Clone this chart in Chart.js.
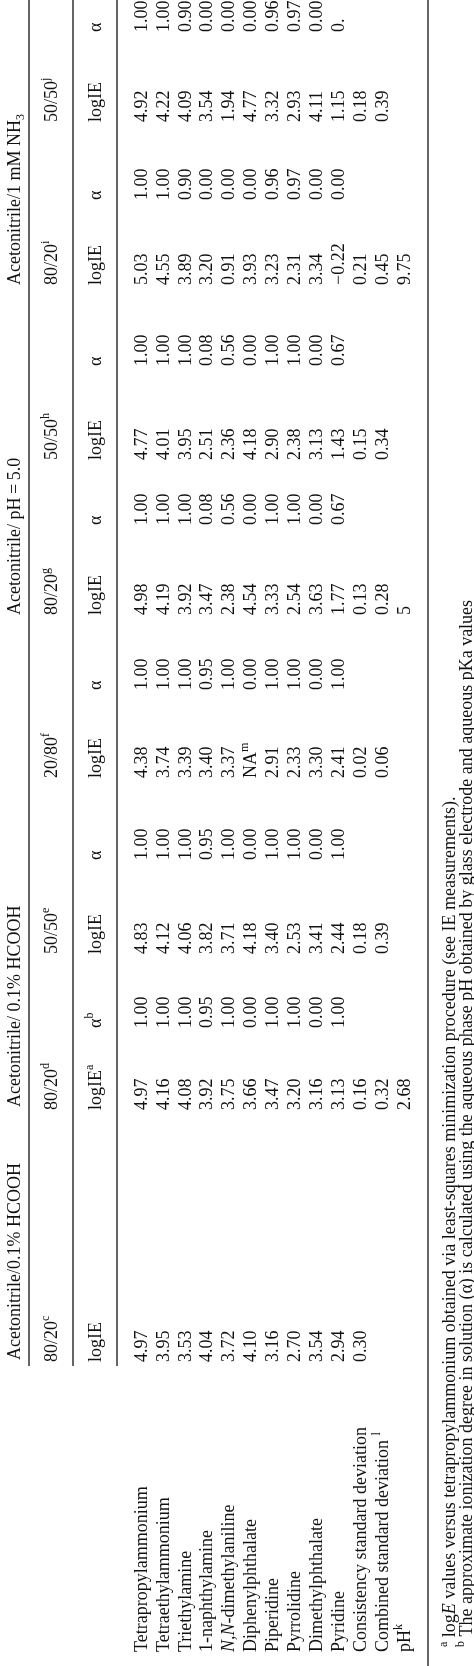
<!DOCTYPE html>
<html>
<head>
<meta charset="utf-8">
<script src="https://cdn.jsdelivr.net/npm/chart.js@4/dist/chart.umd.min.js"></script>
<style>
  html, body { margin: 0; padding: 0; background: #fff; }
  canvas { display: block; }
</style>
</head>
<body>
<canvas id="tbl" width="474" height="1666"></canvas>
<script>
// rows of the table (read bottom-to-top in the rotated page)
const compounds = ['Tetrapropylammonium', 'Tetraethylammonium', 'Triethylamine', '1-naphthylamine',
  '*N,N*-dimethylaniline', 'Diphenylphthalate', 'Piperidine', 'Pyrrolidine', 'Dimethylphthalate',
  'Pyridine', 'Consistency standard deviation', 'Combined standard deviation ^l', 'pH^k'];

const groups = ['Acetonitrile/0.1% HCOOH', 'Acetonitrile/ 0.1% HCOOH', 'Acetonitrile/ pH\u2009=\u20095.0', 'Acetonitrile/1 mM NH_3'];
const conditions = ['80/20^c', '80/20^d', '50/50^e', '20/80^f', '80/20^g', '50/50^h', '80/20^i', '50/50^j'];
const colHeads = ['logIE', 'logIE^a', '\u03b1^b', 'logIE', '\u03b1', 'logIE', '\u03b1', 'logIE', '\u03b1',
  'logIE', '\u03b1', 'logIE', '\u03b1', 'logIE', '\u03b1'];

const logIE_c = ['4.97', '3.95', '3.53', '4.04', '3.72', '4.10', '3.16', '2.70', '3.54', '2.94', '0.30'];
const logIE_d = ['4.97', '4.16', '4.08', '3.92', '3.75', '3.66', '3.47', '3.20', '3.16', '3.13', '0.16', '0.32', '2.68'];
const alpha_d = ['1.00', '1.00', '1.00', '0.95', '1.00', '0.00', '1.00', '1.00', '0.00', '1.00'];
const logIE_e = ['4.83', '4.12', '4.06', '3.82', '3.71', '4.18', '3.40', '2.53', '3.41', '2.44', '0.18', '0.39'];
const alpha_e = ['1.00', '1.00', '1.00', '0.95', '1.00', '0.00', '1.00', '1.00', '0.00', '1.00'];
const logIE_f = ['4.38', '3.74', '3.39', '3.40', '3.37', 'NA^m', '2.91', '2.33', '3.30', '2.41', '0.02', '0.06'];
const alpha_f = ['1.00', '1.00', '1.00', '0.95', '1.00', '0.00', '1.00', '1.00', '0.00', '1.00'];
const logIE_g = ['4.98', '4.19', '3.92', '3.47', '2.38', '4.54', '3.33', '2.54', '3.63', '1.77', '0.13', '0.28', '5'];
const alpha_g = ['1.00', '1.00', '1.00', '0.08', '0.56', '0.00', '1.00', '1.00', '0.00', '0.67'];
const logIE_h = ['4.77', '4.01', '3.95', '2.51', '2.36', '4.18', '2.90', '2.38', '3.13', '1.43', '0.15', '0.34'];
const alpha_h = ['1.00', '1.00', '1.00', '0.08', '0.56', '0.00', '1.00', '1.00', '0.00', '0.67'];
const logIE_i = ['5.03', '4.55', '3.89', '3.20', '0.91', '3.93', '3.23', '2.31', '3.34', '\u22120.22', '0.21', '0.45', '9.75'];
const alpha_i = ['1.00', '1.00', '0.90', '0.00', '0.00', '0.00', '0.96', '0.97', '0.00', '0.00'];
const logIE_j = ['4.92', '4.22', '4.09', '3.54', '1.94', '4.77', '3.32', '2.93', '4.11', '1.15', '0.18', '0.39'];
const alpha_j = ['1.00', '1.00', '0.90', '0.00', '0.00', '0.00', '0.96', '0.97', '0.00', '0.'];

const footnotes = [
  '^a log*E* values versus tetrapropylammonium obtained via least-squares minimization procedure (see IE measurements).',
  '^b The approximate ionization degree in solution (\u03b1) is calculated using the aqueous phase pH obtained by glass electrode and aqueous pKa values'
];

// layout (page y where each column's text starts; text runs upward)
const columns = [logIE_c, logIE_d, alpha_d, logIE_e, alpha_e, logIE_f, alpha_f,
  logIE_g, alpha_g, logIE_h, alpha_h, logIE_i, alpha_i, logIE_j, alpha_j];
const colStart = [1362, 1110, 1028, 954, 860, 778, 690, 615, 525, 460, 366, 285, 200, 122, 32];
const condStart = [1362, 1110, 954, 778, 615, 460, 285, 122];
const groupStart = [1360, 1107, 615, 285];
const nameStart = 1652;
const FONT = 'Liberation Serif, Times New Roman, serif';
const SIZE = 18;

// cells -> points on (row index, page y)
const cells = [];
compounds.forEach((n, r) => cells.push({ x: r, y: nameStart, t: n }));
columns.forEach((col, c) => col.forEach((v, r) => cells.push({ x: r, y: colStart[c], t: v })));

// draw rich text rotated -90deg: ^x superscript, _x subscript, *..* italic
function drawRich(ctx, str, x, y) {
  ctx.save();
  ctx.translate(x, y);
  ctx.rotate(-Math.PI / 2);
  ctx.textBaseline = 'middle';
  ctx.textAlign = 'left';
  let pos = 0, italic = false, i = 0;
  while (i < str.length) {
    let ch = str[i];
    if (ch === '*') { italic = !italic; i++; continue; }
    if (ch === '^' || ch === '_') {
      let j = i + 1;
      while (j < str.length && /[a-z0-9]/.test(str[j])) j++;
      const s = str.slice(i + 1, j);
      ctx.font = Math.round(SIZE * 0.65) + 'px ' + FONT;
      ctx.fillText(s, pos, ch === '^' ? -SIZE * 0.35 : SIZE * 0.3);
      pos += ctx.measureText(s).width;
      i = j; continue;
    }
    let j = i;
    while (j < str.length && !'*^_'.includes(str[j])) j++;
    const s = str.slice(i, j);
    ctx.font = (italic ? 'italic ' : '') + SIZE + 'px ' + FONT;
    ctx.fillText(s, pos, 0);
    pos += ctx.measureText(s).width;
    i = j;
  }
  ctx.restore();
}

const tablePlugin = {
  id: 'tablePlugin',
  beforeDraw(chart) {
    const ctx = chart.ctx;
    ctx.save();
    ctx.fillStyle = '#fff';
    ctx.fillRect(0, 0, chart.width, chart.height);
    ctx.restore();
  },
  afterDatasetsDraw(chart) {
    const ctx = chart.ctx;
    const ys = chart.scales.y;
    ctx.save();
    ctx.fillStyle = '#111';
    ctx.strokeStyle = '#333';
    ctx.lineWidth = 1.5;
    // rules
    [29, 73, 117].forEach(px => {
      ctx.beginPath(); ctx.moveTo(px, 0); ctx.lineTo(px, ys.getPixelForValue(1366)); ctx.stroke();
    });
    ctx.beginPath(); ctx.moveTo(428, 0); ctx.lineTo(428, chart.height); ctx.stroke();
    // headers
    groups.forEach((g, k) => drawRich(ctx, g, 15, ys.getPixelForValue(groupStart[k])));
    conditions.forEach((c, k) => drawRich(ctx, c, 52, ys.getPixelForValue(condStart[k])));
    colHeads.forEach((h, k) => drawRich(ctx, h, 96, ys.getPixelForValue(colStart[k])));
    // body cells via the dataset points
    const meta = chart.getDatasetMeta(0);
    meta.data.forEach((pt, k) => drawRich(ctx, cells[k].t, pt.x, pt.y));
    // footnotes
    drawRich(ctx, footnotes[0], 450, ys.getPixelForValue(1647));
    drawRich(ctx, footnotes[1], 467, ys.getPixelForValue(1647));
    ctx.restore();
  }
};

new Chart(document.getElementById('tbl').getContext('2d'), {
  type: 'scatter',
  data: {
    datasets: [{ data: cells.map(c => ({ x: c.x, y: c.y })), pointRadius: 0, pointHoverRadius: 0 }]
  },
  options: {
    responsive: false,
    animation: false,
    events: [],
    layout: { padding: 0 },
    plugins: { legend: { display: false }, tooltip: { enabled: false } },
    scales: {
      x: { type: 'linear', display: false, min: -142 / 21.9, max: (474 - 142) / 21.9 },
      y: { type: 'linear', display: false, min: 0, max: 1666, reverse: true }
    }
  },
  plugins: [tablePlugin]
});
</script>
</body>
</html>
